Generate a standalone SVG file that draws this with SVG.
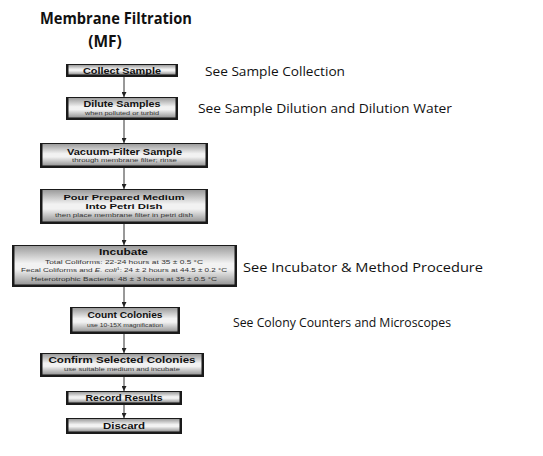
<svg xmlns="http://www.w3.org/2000/svg" width="543" height="456" viewBox="0 0 543 456">
<style>
.frame{fill:#1a1a1a}
.fill{fill:url(#g)}
.t{font-family:"Liberation Sans",Arial,sans-serif;font-weight:900;font-size:8.4px;fill:#111;text-anchor:middle}
.t2{font-size:7.8px}
.s{font-family:"Liberation Sans",Arial,sans-serif;font-size:6.2px;fill:#333;text-anchor:middle}
.note{font-family:"Open Sans","Noto Sans",sans-serif;font-size:13.5px;fill:#111}
.title{font-family:"Open Sans","Noto Sans",sans-serif;font-weight:bold;font-size:15.5px;fill:#111;text-anchor:middle}
.conn line{stroke:#333;stroke-width:1}
</style>
<defs>
<linearGradient id="g" x1="0" y1="0" x2="0" y2="1">
<stop offset="0" stop-color="#9c9c9c"/>
<stop offset="0.45" stop-color="#f2f2f2"/>
<stop offset="0.6" stop-color="#f2f2f2"/>
<stop offset="1" stop-color="#989898"/>
</linearGradient>
<marker id="ah" viewBox="0 0 6 6" refX="6" refY="3" markerWidth="5" markerHeight="5" markerUnits="userSpaceOnUse" orient="auto">
<path d="M0,0 L6,3 L0,6 Z" fill="#222"/>
</marker>
</defs>
<rect width="543" height="456" fill="#fff"/>
<g id="title">
<text class="title" x="116" y="24" textLength="152" lengthAdjust="spacingAndGlyphs">Membrane Filtration</text>
<text class="title" x="105" y="47">(MF)</text>
</g>
<g class="conn" id="connectors">
<line x1="124" y1="77" x2="124" y2="97" marker-end="url(#ah)"/>
<line x1="124" y1="120" x2="124" y2="143" marker-end="url(#ah)"/>
<line x1="124" y1="168" x2="124" y2="189" marker-end="url(#ah)"/>
<line x1="124" y1="224" x2="124" y2="245" marker-end="url(#ah)"/>
<line x1="124" y1="287" x2="124" y2="307" marker-end="url(#ah)"/>
<line x1="124" y1="334" x2="124" y2="353" marker-end="url(#ah)"/>
<line x1="124" y1="377" x2="124" y2="391" marker-end="url(#ah)"/>
<line x1="124" y1="405" x2="124" y2="418" marker-end="url(#ah)"/>
</g>
<g id="collect">
<rect class="frame" x="66" y="64" width="112" height="13"/>
<rect class="fill" x="68.5" y="65" width="107" height="9.5"/>
<text class="t" x="122" y="73.5" textLength="78" lengthAdjust="spacingAndGlyphs">Collect Sample</text>
</g>
<g id="dilute">
<rect class="frame" x="66" y="97" width="112" height="23"/>
<rect class="fill" x="68.5" y="98" width="107" height="19.5"/>
<text class="t" x="122" y="106.5" textLength="77" lengthAdjust="spacingAndGlyphs">Dilute Samples</text>
<text class="s" x="122" y="114.5" textLength="74" lengthAdjust="spacingAndGlyphs">when polluted or turbid</text>
</g>
<g id="vacuum">
<rect class="frame" x="40" y="143" width="168" height="25"/>
<rect class="fill" x="42.5" y="144" width="163" height="21.5"/>
<text class="t" x="124.5" y="154.5" textLength="115" lengthAdjust="spacingAndGlyphs">Vacuum-Filter Sample</text>
<text class="s" x="124.5" y="162" textLength="105" lengthAdjust="spacingAndGlyphs">through membrane filter; rinse</text>
</g>
<g id="pour">
<rect class="frame" x="40" y="189" width="168" height="35"/>
<rect class="fill" x="42.5" y="190" width="163" height="31.5"/>
<text class="t t2" x="124" y="199.5" textLength="121" lengthAdjust="spacingAndGlyphs">Pour Prepared Medium</text>
<text class="t t2" x="124" y="208.5" textLength="77" lengthAdjust="spacingAndGlyphs">Into Petri Dish</text>
<text class="s" x="124" y="217" textLength="138" lengthAdjust="spacingAndGlyphs">then place membrane filter in petri dish</text>
</g>
<g id="incubate">
<rect class="frame" x="12" y="245" width="225" height="42"/>
<rect class="fill" x="14.5" y="246" width="220" height="38.5"/>
<text class="t" x="123.5" y="255" textLength="49" lengthAdjust="spacingAndGlyphs">Incubate</text>
<text class="s" x="124" y="263.5" textLength="158" lengthAdjust="spacingAndGlyphs">Total Coliforms: 22-24 hours at 35 ± 0.5 °C</text>
<text class="s" x="124" y="272" textLength="206" lengthAdjust="spacingAndGlyphs">Fecal Coliforms and <tspan font-style="italic">E. coli</tspan><tspan font-size="4" dy="-2">1</tspan><tspan dy="2">: 24 ± 2 hours at 44.5 ± 0.2 °C</tspan></text>
<text class="s" x="124" y="280.5" textLength="186" lengthAdjust="spacingAndGlyphs">Heterotrophic Bacteria: 48 ± 3 hours at 35 ± 0.5 °C</text>
</g>
<g id="count">
<rect class="frame" x="70" y="307" width="110" height="27"/>
<rect class="fill" x="72.5" y="308" width="105" height="23.5"/>
<text class="t" x="125" y="318" textLength="75" lengthAdjust="spacingAndGlyphs">Count Colonies</text>
<text class="s" x="125" y="326.5" textLength="76" lengthAdjust="spacingAndGlyphs">use 10-15X magnification</text>
</g>
<g id="confirm">
<rect class="frame" x="40" y="353" width="164" height="24"/>
<rect class="fill" x="42.5" y="354" width="159" height="20.5"/>
<text class="t" x="122" y="363" textLength="147" lengthAdjust="spacingAndGlyphs">Confirm Selected Colonies</text>
<text class="s" x="122" y="371" textLength="116" lengthAdjust="spacingAndGlyphs">use suitable medium and incubate</text>
</g>
<g id="record">
<rect class="frame" x="66" y="391" width="116" height="14"/>
<rect class="fill" x="68.5" y="392" width="111" height="10.5"/>
<text class="t" x="124" y="401.2" textLength="77" lengthAdjust="spacingAndGlyphs">Record Results</text>
</g>
<g id="discard">
<rect class="frame" x="66" y="418" width="116" height="16"/>
<rect class="fill" x="68.5" y="419" width="111" height="12.5"/>
<text class="t" x="124" y="429" textLength="42" lengthAdjust="spacingAndGlyphs">Discard</text>
</g>
<g id="notes">
<text class="note" x="205" y="76" textLength="140" lengthAdjust="spacingAndGlyphs">See Sample Collection</text>
<text class="note" x="198" y="113" textLength="254" lengthAdjust="spacingAndGlyphs">See Sample Dilution and Dilution Water</text>
<text class="note" x="243" y="272" textLength="240" lengthAdjust="spacingAndGlyphs">See Incubator &amp; Method Procedure</text>
<text class="note" x="233" y="327" textLength="218" lengthAdjust="spacingAndGlyphs">See Colony Counters and Microscopes</text>
</g>
</svg>
